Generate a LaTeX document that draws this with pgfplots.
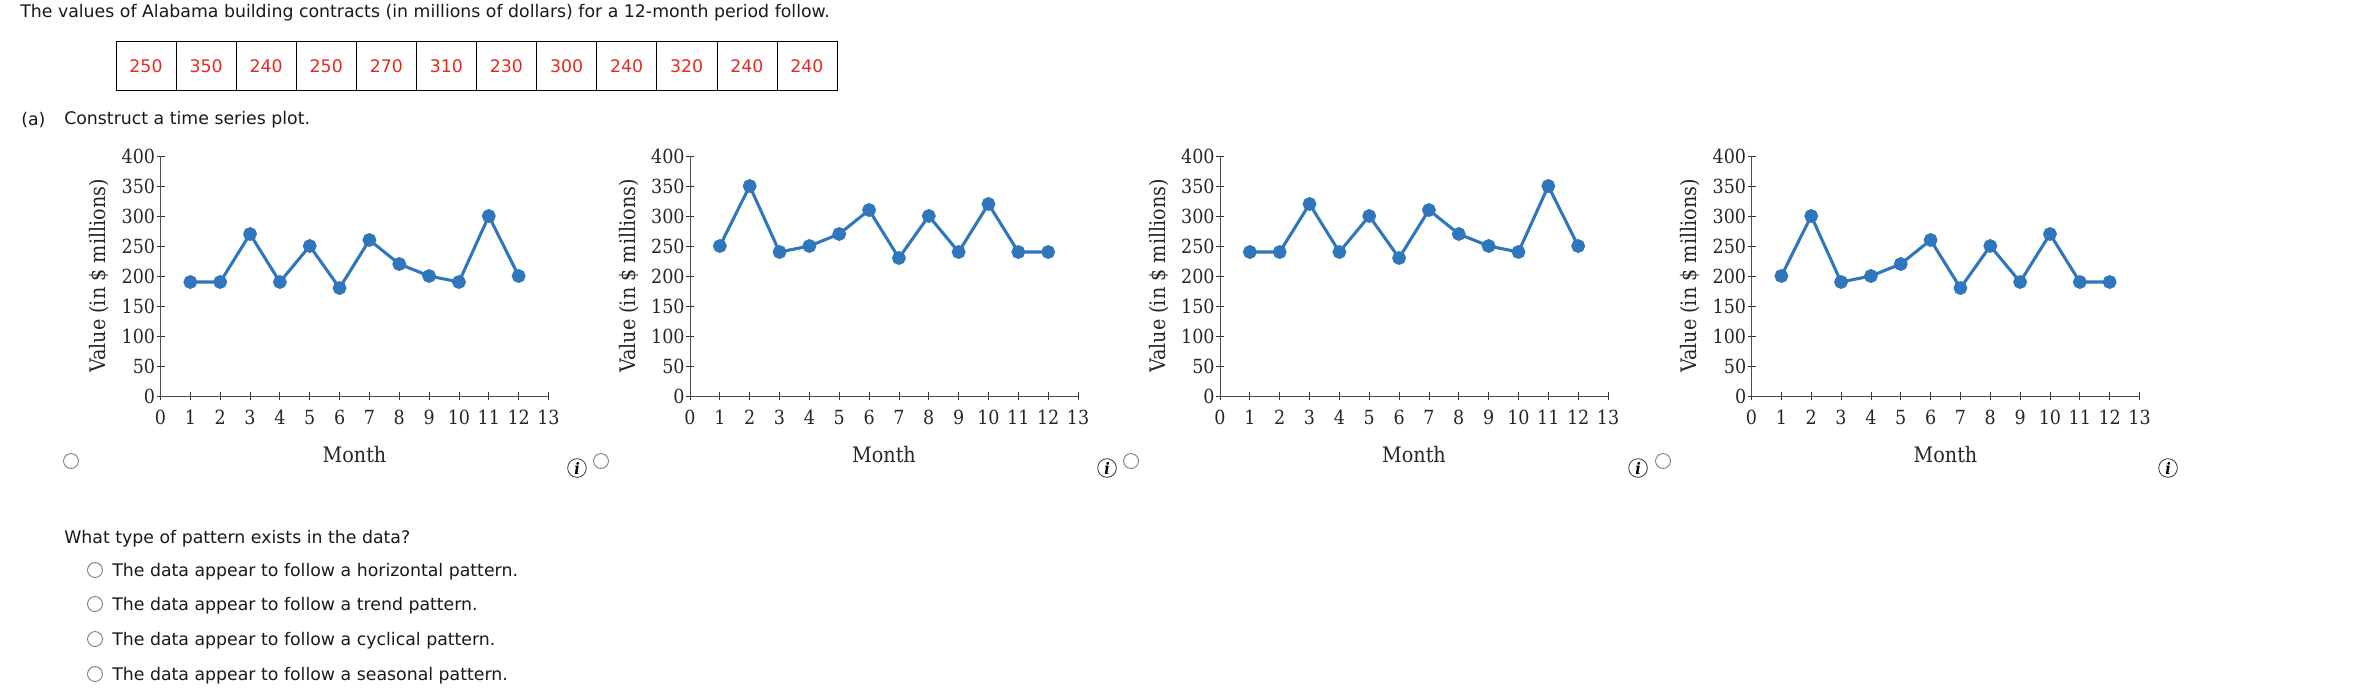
\documentclass[border=0pt]{standalone}
\usepackage{fontspec}
\setmainfont{DejaVu Sans}
\newfontfamily\chartfont{DejaVu Serif Condensed}
\newfontfamily\bodyfont{DejaVu Sans}
\usepackage{pgfplots}
\pgfplotsset{compat=1.18}
\usetikzlibrary{calc}
\definecolor{linecol}{HTML}{2F76BC}
\definecolor{redtxt}{HTML}{E8281E}
\definecolor{radio}{HTML}{7F7F7F}
\pgfplotsset{tschart/.style={
  scale only axis, width=291pt, height=180pt,
  xmin=0, xmax=13, ymin=0, ymax=400,
  axis lines=left, axis line style={-, black!70, line width=0.7pt},
  xtick={0,1,...,13}, ytick={0,50,...,400},
  tick align=center, tick style={black!80, line width=0.6pt},
  major tick length=6pt,
  every tick label/.append style={font=\chartfont\fontsize{14.6}{16}\selectfont, text=black!85},
  /pgf/number format/assume math mode=true,
  xticklabel style={yshift=-4pt},
  yticklabel style={xshift=2.5pt},
  xlabel={Month}, ylabel={Value (in \$ millions)},
  label style={font=\chartfont\fontsize{16}{18}\selectfont, text=black!85},
  xlabel style={yshift=-9pt},
  ylabel style={yshift=2.5pt},
  clip=false,
}}
\pgfplotsset{tsline/.style={color=linecol, line width=2.3pt, mark=*, mark size=4pt, mark options={fill=linecol, draw=linecol, solid}}}
\newcommand{\T}[3]{\node[anchor=west, inner sep=0pt, font=\bodyfont\fontsize{13}{15}\selectfont, text=black!90] at ({#1*0.75pt},{-#2*0.75pt}) {#3};}
\newcommand{\R}[2]{\draw[radio, line width=0.7pt, fill=white] ({#1*0.75pt},{-#2*0.75pt}) circle (5.6pt);}
\newcommand{\I}[2]{\draw[black!80, line width=0.6pt] ({#1*0.75pt},{-#2*0.75pt}) circle (7pt); \node[inner sep=0pt, text=black, font=\chartfont\bfseries\itshape\fontsize{12}{14}\selectfont] at ({#1*0.75pt},{-#2*0.75pt}) {i};}
\begin{document}
\begin{tikzpicture}
\path (0,0) rectangle (1771.5pt,-520.5pt);
% header
\T{20}{13}{The values of Alabama building contracts (in millions of dollars) for a 12-month period follow.}
\draw[black, line width=0.7pt] ({116*0.75pt},{-41*0.75pt}) rectangle ({837*0.75pt},{-90*0.75pt});
\foreach \i in {1,...,11} {\draw[black, line width=0.4pt] ({(116+\i*60.08)*0.75pt},{-41*0.75pt}) -- ({(116+\i*60.08)*0.75pt},{-90*0.75pt});}
\foreach \v [count=\i from 0] in {250,350,240,250,270,310,230,300,240,320,240,240} {
  \node[inner sep=0pt, text=redtxt, font=\bodyfont\fontsize{13}{15}\selectfont] at ({(146+\i*60.08)*0.75pt},{-66*0.75pt}) {\v};}
\T{21}{120}{(a)}
\T{64}{120}{Construct a time series plot.}
% charts
\begin{axis}[tschart, at={({160.5*0.75pt},{-396*0.75pt})}, anchor=origin]
\addplot[tsline] coordinates {(1,190)(2,190)(3,270)(4,190)(5,250)(6,180)(7,260)(8,220)(9,200)(10,190)(11,300)(12,200)};
\end{axis}
\begin{axis}[tschart, at={({690*0.75pt},{-396*0.75pt})}, anchor=origin]
\addplot[tsline] coordinates {(1,250)(2,350)(3,240)(4,250)(5,270)(6,310)(7,230)(8,300)(9,240)(10,320)(11,240)(12,240)};
\end{axis}
\begin{axis}[tschart, at={({1220*0.75pt},{-396*0.75pt})}, anchor=origin]
\addplot[tsline] coordinates {(1,240)(2,240)(3,320)(4,240)(5,300)(6,230)(7,310)(8,270)(9,250)(10,240)(11,350)(12,250)};
\end{axis}
\begin{axis}[tschart, at={({1751.5*0.75pt},{-396*0.75pt})}, anchor=origin]
\addplot[tsline] coordinates {(1,200)(2,300)(3,190)(4,200)(5,220)(6,260)(7,180)(8,250)(9,190)(10,270)(11,190)(12,190)};
\end{axis}
% radios and info
\R{71}{461}\R{601}{461}\R{1131}{461}\R{1663}{461}
\I{577}{468}\I{1107}{468}\I{1638}{468}\I{2168}{468}
% question
\T{64}{539}{What type of pattern exists in the data?}
\R{95}{570}\R{95}{604}\R{95}{639}\R{95}{674}
\T{112}{572}{The data appear to follow a horizontal pattern.}
\T{112}{606}{The data appear to follow a trend pattern.}
\T{112}{641}{The data appear to follow a cyclical pattern.}
\T{112}{676}{The data appear to follow a seasonal pattern.}
\end{tikzpicture}
\end{document}
